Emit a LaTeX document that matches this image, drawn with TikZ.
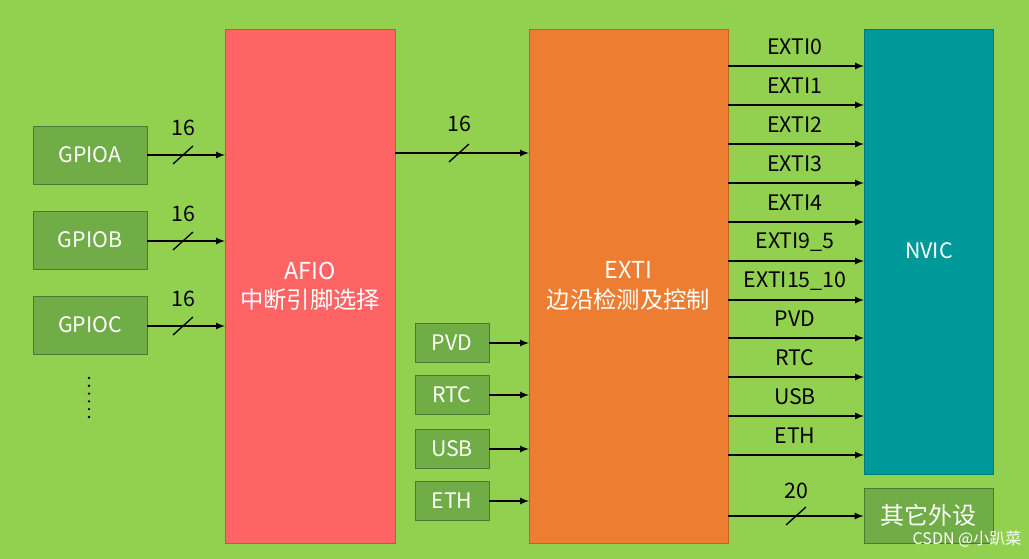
\documentclass[tikz,border=0pt]{standalone}
\usepackage{fontspec}
\setmainfont{Noto Sans CJK SC}
\begin{document}
\begin{tikzpicture}[x=0.75pt,y=-0.75pt,
  box/.style={draw=#1!70!black,line width=0.6pt,fill=#1,text=white,font=\fontsize{16}{19}\selectfont},
  arr/.style={-latex,line width=1.3pt},
  lbl/.style={font=\fontsize{16}{19}\selectfont}]
\definecolor{bg}{HTML}{92D050}
\definecolor{gp}{HTML}{70AD47}
\definecolor{af}{HTML}{FF6464}
\definecolor{ex}{HTML}{ED7D31}
\definecolor{nv}{HTML}{009999}
\fill[bg] (0,0) rectangle (1029,559);
\useasboundingbox (0,0) rectangle (1029,559);
% GPIO
\node[box=gp,minimum width=114*0.75pt,minimum height=58*0.75pt] (ga) at (90,155) {GPIOA};
\node[box=gp,minimum width=114*0.75pt,minimum height=58*0.75pt] (gb) at (90,240) {GPIOB};
\node[box=gp,minimum width=114*0.75pt,minimum height=58*0.75pt] (gc) at (90,325) {GPIOC};
\foreach \d in {0,...,5} \fill (89,378+\d*7.8) circle (1.3);
\node[box=af,draw=af!80!black,minimum width=170*0.75pt,minimum height=514*0.75pt,align=center,font=\fontsize{17.5}{22}\selectfont] (afio) at (310,286) {AFIO\\中断引脚选择};
\node[box=ex,draw=ex!80!black,minimum width=199*0.75pt,minimum height=514*0.75pt,align=center,font=\fontsize{17.5}{22}\selectfont] (exti) at (628.5,286) {EXTI\\边沿检测及控制};
\node[box=nv,draw=nv!80!black,minimum width=129*0.75pt,minimum height=445*0.75pt,anchor=north west,inner sep=0pt] (nvic) at (864,29) {};
\node[text=white,font=\fontsize{16}{19}\selectfont] (nvt) at (929,251) {NVIC};
\node[box=gp,minimum width=129*0.75pt,minimum height=55*0.75pt,font=\fontsize{18}{20}\selectfont] (qt) at (928.5,515.5) {其它外设};
% GPIO -> AFIO
\foreach \n/\y in {ga/155,gb/241,gc/326}{
  \coordinate (t\n) at (225,\y);
  \draw[arr] (\n.east|-t\n) -- (t\n);
  \draw[line width=1pt] (173,\y+9) -- (193,\y-9);
  \node[lbl] at (183,\y-27) {16};
}
% AFIO -> EXTI
\coordinate (ta) at (529,153);
\draw[arr] (afio.east|-ta) -- (ta);
\draw[line width=1pt] (449,162) -- (469,144);
\node[lbl] at (459,124) {16};
% small inputs
\foreach \t/\y in {PVD/343,RTC/395,USB/449,ETH/501}{
  \node[box=gp,minimum width=74*0.75pt,minimum height=39*0.75pt] (i\t) at (452,\y) {\t};
  \coordinate (e\t) at (529,\y);
  \draw[arr] (i\t.east) -- (e\t);
}
% EXTI -> NVIC
\foreach \t/\y [count=\i] in {EXTI0/66,EXTI1/105,EXTI2/144,EXTI3/183,EXTI4/222,EXTI9\_5/261,EXTI15\_10/300,PVD/338,RTC/377,USB/416,ETH/455}{
  \coordinate (s\i) at (728,\y);
  \draw[arr] (s\i) -- (nvic.west|-s\i);
  \node[lbl] at (795,\y-19) {\t};
}
\coordinate (sq) at (728,516);
\draw[arr] (sq) -- (qt.west|-sq);
\draw[line width=1pt] (786,525) -- (806,507);
\node[lbl] at (796,491) {20};
\node[text=white,font=\fontsize{12}{14}\selectfont,anchor=south east] at (1026,552) {CSDN @小趴菜};
\end{tikzpicture}
\end{document}
